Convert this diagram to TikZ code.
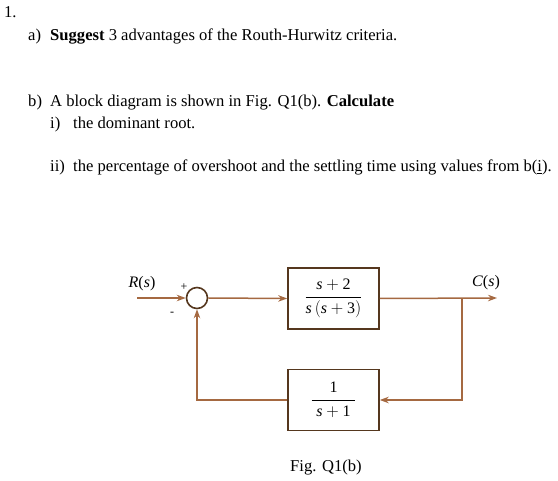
\documentclass[tikz,border=0pt]{standalone}
\usepackage{fontspec}
\setmainfont{Liberation Serif}
\usetikzlibrary{arrows.meta}
\definecolor{wire}{RGB}{165,105,65}
\definecolor{edge}{RGB}{85,55,30}
\newcommand{\vi}[1]{\textit{#1}}
\newcommand{\vu}[1]{\textup{#1}}
\begin{document}
\begin{tikzpicture}[x=1pt,y=-1pt,
  txt/.style={anchor=base west,inner sep=0pt,font=\fontsize{16.6}{19}\selectfont},
  blk/.style={draw=edge,line width=1.6pt,minimum width=91pt,minimum height=61pt,inner sep=0pt,font=\fontsize{16}{18}\selectfont},
  sumj/.style={circle,draw=edge,line width=1.6pt,minimum size=21pt,inner sep=0pt},
  wireline/.style={draw=wire,line width=1.5pt},
  arr/.style={wireline,-{Stealth[length=9pt,width=6.5pt]}},
  lbl/.style={inner sep=0pt,font=\fontsize{16}{18}\selectfont}]
\useasboundingbox (0,0) rectangle (558,481);
% question text
\node[txt] (q1) at (4,18) {1.};
\node[txt] (qa) at (28,41) {a)};
\node[txt] (qat) at (50,41) {\textbf{Suggest} 3 advantages of the Routh-Hurwitz criteria.};
\node[txt] (qb) at (28,107) {b)};
\node[txt] (qbt) at (50,107) {A block diagram is shown in Fig. Q1(b). \textbf{Calculate}};
\node[txt] (qi) at (50,129) {i)};
\node[txt] (qit) at (73,129) {the dominant root.};
\node[txt] (qii) at (50,172) {ii)};
\node[txt] (qiit) at (73,172) {the percentage of overshoot and the settling time using values from b(\underline{i}).};
% diagram
\node[sumj] (sum) at (197,298) {};
\node[blk] (G) at (333.5,298.5) {$\displaystyle\frac{\vi{s}+\vu{2}}{\vi{s}\,(\vi{s}+\vu{3})}$};
\node[blk] (H) at (333.5,400) {$\displaystyle\frac{\vu{1}}{\;\vi{s}+\vu{1}\;}$};
\coordinate (rin) at (137,298);
\coordinate (cout) at (497,298);
\coordinate (br) at (462,298);
\coordinate (brd) at (462,400);
\coordinate (fl) at (197,400);
\node[lbl] (R) at (142,284) {\vi{R}(\vi{s})};
\node[lbl] (C) at (486,283) {\vi{C}(\vi{s})};
\node[lbl] (plus) at (184,287) {\fontsize{12}{13}\selectfont +};
\node[lbl] (minus) at (172,314) {\fontsize{12}{13}\selectfont -};
\draw[arr] (rin) -- (sum.west);
\draw[arr] (sum.east) -- (G.west);
\draw[arr] (G.east) -- (cout);
\draw[arr] (br) -- (brd) -- (H.east);
\draw[arr] (H.west) -- (fl) -- (sum.south);
\node[txt] (fig) at (290,472) {Fig. Q1(b)};
\end{tikzpicture}
\end{document}
